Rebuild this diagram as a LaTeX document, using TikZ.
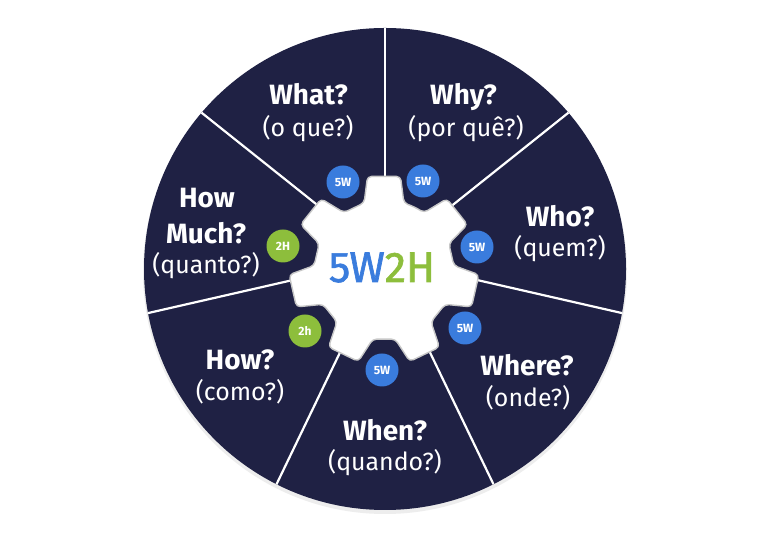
\documentclass[tikz,border=0pt]{standalone}
\usepackage{fontspec}
\setmainfont{Fira Sans}
\newfontfamily\titlefont[FakeBold=1.5]{Fira Sans}
\definecolor{navy}{RGB}{31,33,68}
\definecolor{wblue}{RGB}{58,124,221}
\definecolor{hgreen}{RGB}{141,190,60}
\begin{document}
\begin{tikzpicture}[x=1bp,y=1bp,
  boldlabel/.style={anchor=base, inner sep=0pt, text=white, font=\fontsize{28}{30}\selectfont\bfseries},
  sublabel/.style={anchor=base, inner sep=0pt, text=white, font=\fontsize{25}{27}\selectfont},
  badge/.style={circle, minimum size=33bp, inner sep=0pt, text=white, font=\fontsize{12}{12}\selectfont\bfseries},
  wbadge/.style={badge, fill=wblue},
  hbadge/.style={badge, fill=hgreen},
  divider/.style={draw=white, line width=2.2bp},
  gearshape/.style={fill=white, draw=black!22, line width=1.4bp, rounded corners=4bp}
]
\useasboundingbox (0,0) rectangle (768,543);
\fill[white] (0,0) rectangle (768,543);
\coordinate (dc) at (385,274);
\coordinate (conv) at (385,284);
\coordinate (gc) at (384,273);
% faint shadow and disc
\fill[black!7] (385,271) circle (242);
\fill[navy] (dc) circle (241);
% dividers
\begin{scope}
  \clip (dc) circle (241);
  \foreach \a in {90,38.5714,-12.8571,-64.2857,-115.7143,-167.1429,141.4286}
    \draw[divider] (conv) -- ++(\a:320);
\end{scope}
% gear
\begin{scope}[shift={(gc)}]
  \path[gearshape] (64.2857:70)
    \foreach \k in {0,...,6} {
      -- ({90+\k*51.42857-16.5}:70) -- ({90+\k*51.42857-10}:95)
      -- ({90+\k*51.42857+10}:95) -- ({90+\k*51.42857+16.5}:70)
    } -- cycle;
\end{scope}
\node[anchor=base, inner sep=0pt, font=\titlefont\fontsize{43}{45}\selectfont] (title) at (382,261)
  {\textcolor{wblue}{5W}\textcolor{hgreen}{2H}};
% badges
\node[wbadge] (bwhat) at (343,361) {5W};
\node[wbadge] (bwhy) at (423,362) {5W};
\node[wbadge] (bwho) at (477,296) {5W};
\node[wbadge] (bwhere) at (465,215) {5W};
\node[wbadge] (bwhen) at (382,173) {5W};
\node[hbadge] (bhow) at (305,212) {2h};
\node[hbadge] (bhowmuch) at (283,297) {2H};
% labels
\node[boldlabel] (what) at (308.5,438) {What?};
\node[sublabel] (whatpt) at (308,406) {(o que?)};
\node[boldlabel] (why) at (463.5,438) {Why?};
\node[sublabel] (whypt) at (466,406) {(por quê?)};
\node[boldlabel] (who) at (560,316) {Who?};
\node[sublabel] (whopt) at (560,286) {(quem?)};
\node[boldlabel] (where) at (527,167) {Where?};
\node[sublabel] (wherept) at (528,136) {(onde?)};
\node[boldlabel] (when) at (385,102) {When?};
\node[sublabel] (whenpt) at (385,72) {(quando?)};
\node[boldlabel] (how) at (240,173) {How?};
\node[sublabel] (howpt) at (240,142) {(como?)};
\node[boldlabel] (hm1) at (207,335) {How};
\node[boldlabel] (hm2) at (206,299) {Much?};
\node[sublabel] (hmpt) at (206,269) {(quanto?)};
\end{tikzpicture}
\end{document}
